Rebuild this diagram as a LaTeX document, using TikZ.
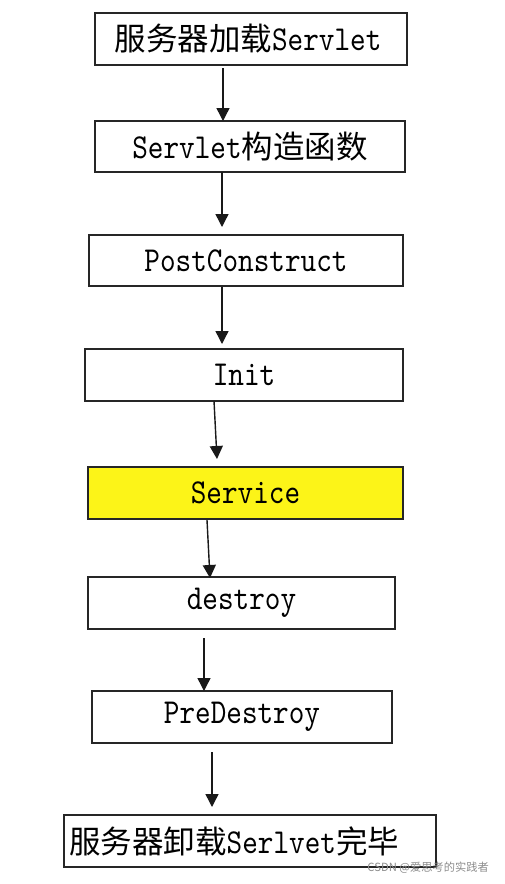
\documentclass[tikz,border=0pt]{standalone}
\usepackage{fontspec}
\usetikzlibrary{arrows.meta}
\newfontfamily\cjk{Noto Sans CJK SC}[Scale=0.9]
\newfontfamily\lmm{lmmono10-regular.otf}[FakeStretch=0.85]
\definecolor{boxyellow}{RGB}{252,244,24}
\tikzset{
  stepbox/.style={draw=black!85, line width=1.8pt, inner sep=0pt, fill=white,
    font=\lmm\fontsize{35}{36}\selectfont},
  arr/.style={line width=1.4pt, black!90, -{Triangle[width=13pt,length=13pt]}},
}
\begin{document}
\begin{tikzpicture}[x=1pt,y=-1pt]
\useasboundingbox (0,0) rectangle (504,884);
\node[stepbox, minimum width=312pt, minimum height=52pt] (b1) at (251,39) {};
\node at (248,39) [font=\lmm\fontsize{35}{36}\selectfont] (t1) {{\cjk 服务器加载}Servlet};
\node[stepbox, minimum width=310pt, minimum height=51pt] (b2) at (250,146.5) {Servlet{\cjk 构造函数}};
\node[stepbox, minimum width=314pt, minimum height=51pt] (b3) at (246,260.5) {PostConstruct};
\node[stepbox, minimum width=318pt, minimum height=52pt] (b4) at (244,375) {Init};
\node[stepbox, fill=boxyellow, minimum width=315pt, minimum height=52pt] (b5) at (245.5,493) {Service};
\node[stepbox, minimum width=307pt, minimum height=52pt] (b6) at (241.5,603) {destroy};
\node[stepbox, minimum width=300pt, minimum height=52pt] (b7) at (242,717) {PreDestroy};
\node[stepbox, minimum width=372pt, minimum height=52pt] (b8) at (250,841) {};
\node[anchor=west, inner sep=0pt, font=\lmm\fontsize{35}{36}\selectfont] (t8) at (69,841) {{\cjk 服务器卸载}Serlvet{\cjk 完毕}};
% arrow end points
\coordinate (a1s) at (223,68);  \coordinate (a1e) at (223,121);
\coordinate (a2s) at (222,172); \coordinate (a2e) at (222,227);
\coordinate (a3s) at (222,287); \coordinate (a3e) at (222,344);
\coordinate (a4s) at (214,401); \coordinate (a4e) at (217,459);
\coordinate (a5s) at (207,520); \coordinate (a5e) at (210,578);
\coordinate (a6s) at (204,638); \coordinate (a6e) at (204,691);
\coordinate (a7s) at (212,752); \coordinate (a7e) at (212,807);
\draw[arr] (a1s) -- (a1e);
\draw[arr] (a2s) -- (a2e);
\draw[arr] (a3s) -- (a3e);
\draw[arr] (a4s) -- (a4e);
\draw[arr] (a5s) -- (a5e);
\draw[arr] (a6s) -- (a6e);
\draw[arr] (a7s) -- (a7e);
\node[anchor=east, inner sep=0pt, text=black!45, font=\cjk\fontsize{12.5}{13}\selectfont] (wm) at (489,868) {CSDN @爱思考的实践者};
\end{tikzpicture}
\end{document}
